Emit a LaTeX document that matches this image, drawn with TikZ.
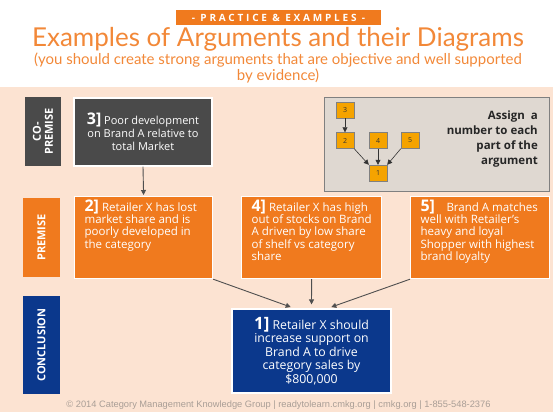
\documentclass[tikz,border=0pt]{standalone}
\usepackage{fontspec}
\setmainfont{Open Sans}
\newfontfamily\titlefont{Lato}
\newfontfamily\footfont{Liberation Sans}
\usetikzlibrary{arrows.meta,shadows}

\definecolor{peach}{HTML}{FCE3D2}
\definecolor{cmorange}{HTML}{F07A1E}
\definecolor{titleorange}{HTML}{F28838}
\definecolor{cmgray}{HTML}{4A4A4A}
\definecolor{cmblue}{HTML}{0B388C}
\definecolor{minifill}{HTML}{F5A300}
\definecolor{assignfill}{HTML}{DFD8D1}
\definecolor{arrowgray}{HTML}{4F4F4F}
\definecolor{footgray}{HTML}{A99E96}

\newcommand{\argnum}[1]{{\bfseries\fontsize{16}{15}\selectfont #1]}}

\begin{document}
\begin{tikzpicture}[x=1pt,y=-1pt,
	sidelabel/.style={rotate=90,inner sep=0pt,text=white,align=center,
		font=\bfseries\fontsize{11}{12}\selectfont},
	argbox/.style={draw=white,line width=1.2pt,text=white},
	topbox/.style={argbox,fill=cmorange,anchor=north west,inner xsep=10pt,inner ysep=3pt},
	mini/.style={draw=gray,fill=minifill,minimum width=18pt,minimum height=16pt,inner sep=0pt,
		font=\fontsize{7}{7}\selectfont,text=black!80},
	conn/.style={draw=arrowgray,line width=0.9pt,-{Triangle[length=5pt,width=5pt]},shorten >=1pt},
	miniconn/.style={draw=black!80,line width=0.6pt,-{Triangle[length=5pt,width=5pt]}}]
	\useasboundingbox (0,0) rectangle (553,412);
	\fill[peach] (0,87) rectangle (553,412);
	
	% heading
	\node[fill=cmorange,draw=white,line width=1.5pt,minimum width=207pt,minimum height=17pt,inner sep=0pt,
		drop shadow={opacity=0.3,shadow xshift=1pt,shadow yshift=-1pt},text=white,
		font=\bfseries\fontsize{10}{10}\selectfont\addfontfeature{LetterSpace=28}] (banner) at (278.5,17.5) {- PRACTICE \& EXAMPLES -};
	\node[anchor=base,text=titleorange,inner sep=0pt,font=\titlefont\fontsize{26}{26}\selectfont] (title) at (278,47) {Examples of Arguments and their Diagrams};
	\node[anchor=north,text=titleorange,inner sep=0pt,align=center,font=\titlefont\fontsize{15}{13}\selectfont] (subtitle) at (278,53)
		{(you should create strong arguments that are objective and well supported\\by evidence)};
	
	% row labels
	\node[sidelabel,fill=cmgray,minimum width=69pt,minimum height=36pt] (lco) at (43,131.5) {CO-\\PREMISE};
	\node[sidelabel,fill=cmorange,minimum width=79pt,minimum height=37pt] (lpre) at (41.5,237.5) {PREMISE};
	\node[sidelabel,fill=cmblue,minimum width=98pt,minimum height=37pt] (lcon) at (41.5,345) {CONCLUSION};
	
	% argument boxes
	\node[argbox,fill=cmgray,minimum width=138pt,minimum height=68pt,align=center,
		font=\fontsize{11}{12.8}\selectfont] (c3) at (143,132) {\argnum{3} Poor development\\on Brand A relative to\\total Market};
	\node[topbox] (p2) at (74,196) {\parbox[t][76pt][t]{118pt}{\raggedright\fontsize{11.5}{12.4}\selectfont
		\argnum{2} Retailer X has lost\\market share and is\\poorly developed in\\the category}};
	\node[topbox] (p4) at (241,196) {\parbox[t][76pt][t]{120pt}{\raggedright\fontsize{11.5}{12.4}\selectfont
		\argnum{4} Retailer X has high\\out of stocks on Brand\\A driven by low share\\of shelf vs category\\share}};
	\node[topbox] (p5) at (410,196) {\parbox[t][76pt][t]{119pt}{\raggedright\fontsize{11.5}{12.4}\selectfont
		\argnum{5}\quad Brand A matches\\well with Retailer’s\\heavy and loyal\\Shopper with highest\\brand loyalty}};
	\node[argbox,fill=cmblue,minimum width=159pt,minimum height=84pt,align=center,
		font=\fontsize{12.3}{13.4}\selectfont] (c1) at (311.5,351) {{\bfseries\fontsize{17}{16}\selectfont 1]} Retailer X should\\increase support on\\Brand A to drive\\category sales by\\\$800,000};
	
	\draw[conn] (c3.south) -- (p2.north);
	\draw[conn,shorten >=4pt] (p2.south east) -- ([xshift=-17pt]c1.north);
	\draw[conn,shorten >=4pt] (p4.south) -- (c1.north);
	\draw[conn,shorten >=4pt] (p5.south west) -- ([xshift=16pt]c1.north);
	
	% numbering hint
	\node[fill=assignfill,draw=gray,line width=0.8pt,minimum width=225pt,minimum height=94pt,inner sep=0pt] (hint) at (436.5,144) {};
	\node[anchor=north east,inner sep=0pt,align=right,text=black!85,font=\bfseries\fontsize{11.5}{15}\selectfont] (hinttext) at (538,111)
		{Assign~~a\\number to each\\part of the\\argument};
	\node[mini] (m3) at (345,110) {3};
	\node[mini] (m2) at (345,140.5) {2};
	\node[mini] (m4) at (378,140.5) {4};
	\node[mini] (m5) at (410,140.5) {5};
	\node[mini] (m1) at (378,173) {1};
	\draw[miniconn] (m3) -- (m2);
	\draw[miniconn] (m2.south east) -- (m1.north west);
	\draw[miniconn] (m4) -- (m1);
	\draw[miniconn] (m5.south west) -- (m1.north east);
	
	\node[anchor=base,inner sep=0pt,text=footgray,font=\footfont\fontsize{9.3}{9}\selectfont] (foot) at (278.5,407)
		{© 2014 Category Management Knowledge Group | readytolearn.cmkg.org | cmkg.org | 1-855-548-2376};
\end{tikzpicture}
\end{document}
